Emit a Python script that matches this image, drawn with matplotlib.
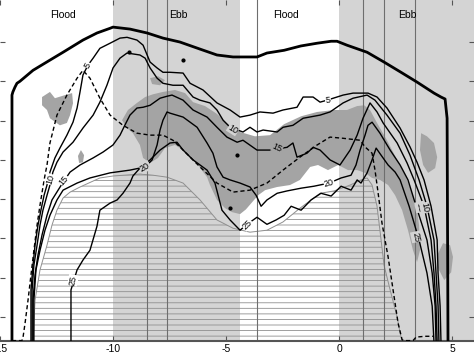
import numpy as np
import matplotlib
matplotlib.use("Agg")
import matplotlib.pyplot as plt

plt.rcParams["font.family"] = ["Liberation Sans", "DejaVu Sans"]
plt.rcParams["axes.unicode_minus"] = False
plt.rcParams["hatch.linewidth"] = 0.6

# x: time (h), y: depth below top of the section (m)
surface = [(-14.47, 8.65), (-14.47, 2.35), (-14.43, 2.27), (-14.34, 2.15), (-14.25, 2.05),
           (-14.12, 2.00), (-13.54, 1.72), (-12.79, 1.46), (-12.21, 1.26), (-11.33, 0.95),
           (-10.71, 0.77), (-10.13, 0.65), (-10.0, 0.62), (-9.25, 0.67), (-8.49, 0.77),
           (-7.79, 0.90), (-7.04, 1.00), (-6.15, 1.18), (-5.40, 1.33), (-4.69, 1.38),
           (-3.63, 1.38), (-3.19, 1.28), (-2.43, 1.21), (-1.69, 1.10), (-0.97, 1.03),
           (-0.35, 0.98), (-0.09, 0.98), (0.35, 1.08), (1.24, 1.26), (1.99, 1.51),
           (2.74, 1.77), (3.45, 2.02), (4.20, 2.30), (4.51, 2.40), (4.69, 2.45),
           (4.78, 2.94), (4.82, 8.65)]

sal_5 = [(-13.63, 8.65), (-13.63, 7.31), (-13.54, 6.68), (-13.45, 6.17), (-13.32, 5.66),
         (-13.19, 5.28), (-13.05, 4.90), (-12.92, 4.64), (-12.79, 4.31), (-12.57, 3.95),
         (-12.35, 3.70), (-12.04, 3.37), (-11.77, 3.04), (-11.59, 2.68), (-11.46, 2.27),
         (-11.33, 1.84), (-11.11, 1.59), (-10.88, 1.41), (-10.58, 1.16), (-10.13, 1.03),
         (-9.69, 0.90), (-9.38, 0.88), (-8.94, 0.95), (-8.67, 1.08), (-8.49, 1.33),
         (-8.36, 1.51), (-8.05, 1.66), (-7.79, 1.77), (-7.48, 1.77), (-6.90, 1.79),
         (-6.59, 2.05), (-6.02, 2.22), (-5.40, 2.55), (-4.82, 2.73), (-4.38, 2.91),
         (-3.94, 2.86), (-3.50, 2.78), (-2.92, 2.81), (-2.48, 2.73), (-1.86, 2.66),
         (-1.59, 2.40), (-1.15, 2.40), (-0.84, 2.53), (-0.53, 2.48), (0.18, 2.35),
         (0.62, 2.30), (1.28, 2.30), (1.68, 2.40), (2.12, 2.68), (2.70, 3.19),
         (3.14, 3.67), (3.45, 4.06), (3.76, 4.51), (4.07, 5.18), (4.34, 6.04),
         (4.38, 6.88), (4.47, 7.72), (4.51, 8.65)]

sal_10 = [(-13.58, 8.65), (-13.58, 7.31), (-13.50, 6.68), (-13.36, 6.17), (-13.23, 5.66),
          (-13.10, 5.28), (-12.92, 4.90), (-12.79, 4.64), (-12.66, 4.31), (-12.48, 4.06),
          (-12.21, 3.80), (-11.77, 3.55), (-11.33, 3.19), (-10.88, 2.86), (-10.58, 2.53),
          (-10.27, 2.10), (-10.0, 1.66), (-9.69, 1.41), (-9.38, 1.28), (-8.81, 1.33),
          (-8.58, 1.41), (-8.36, 1.66), (-8.05, 1.92), (-7.79, 2.05), (-7.35, 2.10),
          (-6.90, 2.10), (-6.46, 2.40), (-6.15, 2.48), (-5.71, 2.55), (-5.40, 2.73),
          (-5.13, 2.99), (-4.82, 3.17), (-4.25, 3.29), (-3.94, 3.17), (-3.63, 3.29),
          (-3.36, 3.24), (-2.74, 3.29), (-2.48, 3.17), (-2.04, 3.12), (-1.59, 2.94),
          (-0.84, 2.86), (-0.40, 2.78), (0.18, 2.55), (0.62, 2.43), (1.24, 2.35),
          (1.59, 2.48), (2.12, 2.86), (2.70, 3.32), (3.14, 3.88), (3.54, 4.51),
          (3.89, 5.18), (4.20, 6.04), (4.29, 6.88), (4.38, 7.72), (4.42, 8.65)]

sal_15 = [(-13.54, 8.65), (-13.54, 7.57), (-13.45, 6.93), (-13.32, 6.42), (-13.14, 5.91),
          (-12.92, 5.41), (-12.70, 5.02), (-12.43, 4.77), (-12.21, 4.57), (-11.90, 4.31),
          (-11.46, 4.13), (-10.88, 3.95), (-10.44, 3.80), (-10.0, 3.62), (-9.69, 3.37),
          (-9.47, 3.11), (-9.25, 2.86), (-8.94, 2.68), (-8.67, 2.66), (-8.36, 2.61),
          (-7.92, 2.43), (-7.61, 2.38), (-7.39, 2.35), (-6.90, 2.48), (-6.46, 2.73),
          (-5.84, 2.91), (-5.40, 3.17), (-4.96, 3.42), (-4.51, 3.55), (-4.25, 3.50),
          (-3.63, 3.75), (-3.05, 3.75), (-2.30, 3.68), (-2.04, 3.57), (-1.86, 3.93),
          (-1.42, 3.83), (-1.15, 3.68), (-0.84, 3.75), (-0.40, 4.00), (0.04, 4.13),
          (0.49, 3.75), (0.80, 3.37), (1.06, 2.94), (1.37, 2.55), (1.68, 2.78),
          (1.95, 3.06), (2.57, 3.57), (3.01, 4.08), (3.32, 4.51), (3.76, 5.18),
          (4.07, 6.04), (4.20, 6.88), (4.29, 7.72), (4.34, 8.65)]

sal_20 = [(-13.50, 8.65), (-13.50, 7.57), (-13.41, 6.80), (-13.23, 6.30), (-13.01, 5.79),
          (-12.79, 5.41), (-12.48, 5.02), (-12.21, 4.77), (-11.59, 4.59), (-11.02, 4.46),
          (-10.13, 4.33), (-9.25, 4.26), (-8.58, 4.18), (-8.27, 4.00), (-8.05, 3.62),
          (-7.92, 3.24), (-7.79, 2.99), (-7.61, 2.78), (-7.48, 2.81), (-6.90, 2.91),
          (-6.28, 3.17), (-5.84, 3.57), (-5.58, 3.83), (-5.40, 4.18), (-5.13, 4.44),
          (-4.82, 4.51), (-4.38, 4.59), (-3.94, 4.69), (-3.67, 4.90), (-3.45, 5.18),
          (-3.19, 5.02), (-2.74, 4.85), (-2.30, 4.79), (-1.68, 4.72), (-1.11, 4.67),
          (-0.44, 4.59), (0.09, 4.46), (0.53, 4.39), (0.75, 4.13), (0.93, 3.75),
          (1.15, 3.37), (1.28, 3.12), (1.46, 3.04), (1.81, 3.32), (2.26, 3.75),
          (2.70, 4.13), (3.05, 4.51), (3.41, 5.18), (3.89, 6.04), (4.12, 6.88),
          (4.25, 7.72), (4.29, 8.65)]

sal_25 = [(-11.86, 8.65), (-11.86, 7.31), (-11.59, 6.80), (-11.33, 6.55), (-11.02, 6.30),
          (-10.71, 5.69), (-10.58, 5.28), (-10.13, 5.10), (-9.82, 5.02), (-9.56, 4.85),
          (-9.25, 4.59), (-9.12, 4.41), (-8.81, 4.21), (-8.36, 4.00), (-7.92, 3.75),
          (-7.48, 3.57), (-7.17, 3.55), (-6.90, 3.75), (-6.46, 4.00), (-5.84, 4.26),
          (-5.49, 4.59), (-5.35, 4.90), (-5.18, 5.28), (-4.82, 5.53), (-4.38, 5.79),
          (-4.07, 5.64), (-3.63, 5.46), (-3.19, 5.64), (-2.79, 5.53), (-2.43, 5.41),
          (-2.12, 5.18), (-1.68, 5.28), (-1.24, 5.02), (-0.80, 4.85), (-0.35, 4.92),
          (0.09, 4.67), (0.53, 4.77), (0.80, 4.51), (0.97, 4.59), (1.24, 4.33),
          (1.46, 4.00), (1.64, 3.70), (1.86, 3.88), (2.17, 4.13), (2.48, 4.31),
          (2.70, 4.51), (3.10, 5.18), (3.54, 6.04), (3.89, 6.88), (4.12, 7.72),
          (4.20, 8.65)]

# dashed line (zero residual current)
zero_line = [(-14.47, 8.60), (-14.03, 8.60), (-13.98, 8.51), (-13.89, 8.15), (-13.76, 7.57),
             (-13.63, 6.93), (-13.50, 6.30), (-13.36, 5.66), (-13.23, 5.15), (-13.10, 4.69),
             (-13.01, 4.39), (-12.92, 4.13), (-12.79, 3.57), (-12.48, 2.86), (-12.04, 2.35),
             (-11.59, 1.92), (-11.33, 1.72), (-11.02, 1.92), (-10.58, 2.43), (-10.13, 2.86),
             (-9.56, 3.12), (-8.94, 3.32), (-8.36, 3.37), (-7.79, 3.37), (-7.35, 3.50),
             (-6.90, 3.75), (-6.15, 4.18), (-5.40, 4.59), (-4.69, 4.82), (-3.94, 4.77),
             (-3.19, 4.59), (-2.48, 4.26), (-1.73, 3.93), (-0.97, 3.62), (-0.40, 3.42),
             (0.18, 3.45), (0.93, 3.50), (1.15, 3.67), (1.46, 3.83), (1.59, 4.26),
             (1.73, 4.85), (1.90, 5.61), (2.17, 6.47), (2.39, 7.31), (2.61, 8.15),
             (2.79, 8.58), (2.92, 8.60), (3.27, 8.60), (3.41, 8.51), (3.81, 8.49),
             (4.16, 8.49)]

# hatched zone
hatch_zone = [(-13.54, 8.70), (-13.45, 7.57), (-13.23, 6.80), (-12.92, 6.17), (-12.70, 5.66),
              (-12.48, 5.28), (-12.21, 4.97), (-11.90, 4.82), (-11.46, 4.69), (-10.58, 4.46),
              (-10.0, 4.41), (-8.81, 4.36), (-8.23, 4.39), (-7.61, 4.44), (-6.90, 4.59),
              (-6.15, 5.02), (-5.40, 5.53), (-4.69, 5.74), (-3.94, 5.84), (-3.19, 5.79),
              (-2.48, 5.58), (-1.73, 5.23), (-0.84, 4.85), (-0.22, 4.79), (0.49, 4.64),
              (0.97, 4.51), (1.24, 4.46), (1.46, 4.64), (1.68, 5.18), (1.86, 6.04),
              (1.99, 6.68), (2.26, 7.31), (2.57, 8.00), (2.70, 8.41), (2.83, 8.70)]

# dark grey patches
patch_main = [(-9.60, 2.99), (-9.34, 2.73), (-8.94, 2.55), (-8.58, 2.40), (-8.23, 2.33),
              (-7.79, 2.27), (-7.26, 2.22), (-6.81, 2.30), (-6.46, 2.53), (-5.93, 2.63),
              (-5.40, 2.83), (-4.91, 3.09), (-4.38, 3.29), (-3.72, 3.40), (-3.05, 3.37),
              (-2.43, 3.09), (-1.68, 2.89), (-0.97, 2.78), (-0.22, 2.73), (0.35, 2.73),
              (0.80, 2.63), (1.11, 2.61), (1.37, 2.73), (1.68, 3.06), (2.12, 3.50),
              (2.57, 4.00), (2.92, 4.39), (3.19, 4.77), (3.41, 5.15), (3.54, 5.66),
              (3.58, 6.30), (3.45, 6.60), (3.27, 6.30), (3.05, 5.79), (2.79, 5.28),
              (2.48, 4.90), (2.17, 4.64), (1.81, 4.51), (1.46, 4.46), (1.15, 4.33),
              (0.80, 4.26), (0.40, 4.26), (-0.04, 4.13), (-0.49, 4.26), (-0.93, 4.13),
              (-1.28, 4.18), (-1.73, 4.51), (-2.17, 4.64), (-2.74, 4.69), (-3.27, 4.77),
              (-3.58, 4.90), (-3.85, 5.08), (-4.12, 5.26), (-4.38, 5.38), (-4.73, 5.33),
              (-5.04, 5.23), (-5.40, 5.02), (-5.71, 4.64), (-5.84, 4.44), (-6.24, 4.13),
              (-6.59, 3.95), (-6.90, 3.75), (-7.26, 3.62), (-7.70, 3.70), (-8.01, 3.95),
              (-8.36, 4.08), (-8.67, 3.95), (-8.81, 3.62), (-9.12, 3.32), (-9.38, 3.19)]
patch_left = [(-13.14, 2.40), (-12.79, 2.27), (-12.57, 2.43), (-12.12, 2.35), (-11.81, 2.30),
              (-11.77, 2.56), (-11.90, 2.86), (-12.04, 3.06), (-12.35, 3.12), (-12.79, 2.94),
              (-12.92, 2.73), (-13.14, 2.61)]
patch_blob = [(-11.42, 3.75), (-11.28, 3.88), (-11.33, 4.06), (-11.50, 4.08), (-11.55, 3.90)]
patch_top = [(-8.36, 1.92), (-8.01, 1.87), (-7.70, 1.97), (-7.92, 2.10), (-8.27, 2.07)]
patch_right = [(3.63, 3.32), (3.89, 3.40), (4.20, 3.57), (4.34, 3.93), (4.25, 4.21),
               (3.94, 4.33), (3.72, 4.13), (3.58, 3.75)]
patch_low = [(4.60, 6.12), (4.91, 6.17), (5.04, 6.47), (4.96, 6.86), (4.65, 7.06),
             (4.38, 6.75), (4.34, 6.43)]

dots_x = [-9.29, -6.90, -4.51, -4.82]
dots_y = [1.26, 1.46, 3.88, 5.23]

shade_bands = [(-10.0, -4.4), (0.0, 6.0)]
event_times = [-8.5, -7.6, -3.65, 1.06, 2.0, 3.36]

phase_names = ["Flood", "Ebb", "Flood", "Ebb"]
phase_x = [-12.21, -7.12, -2.35, 3.01]

# contour labels: text, x, depth, angle
label_text = ["5", "10", "15", "20", "25", "10", "15", "5", "20", "25", "15", "10", "25"]
label_x = [-11.11, -12.75, -12.17, -8.58, -11.77, -4.69, -2.74, -0.49, -0.44, -4.07, 3.58, 3.80, 3.40]
label_y = [1.59, 4.50, 4.52, 4.18, 7.06, 3.22, 3.70, 2.48, 4.59, 5.64, 5.20, 5.22, 5.96]
label_rot = [60, 72, 50, 30, 78, -32, -25, 5, 15, 45, -78, -78, -78]

band_grey = "#d4d4d4"
dark_grey = "#a4a4a4"

fig = plt.figure(figsize=(4.74, 3.53), dpi=100)
ax = fig.add_axes([0, 12 / 353, 1, 341 / 353])

for x0, x1 in shade_bands:
    ax.axvspan(x0, x1, color=band_grey, lw=0, zorder=0)

hz = np.array(hatch_zone)
ax.fill(hz[:, 0], hz[:, 1], facecolor="none", edgecolor="#8f8f8f",
        hatch="---", lw=0.7, zorder=1)

for p in [patch_main, patch_left, patch_blob, patch_top, patch_right, patch_low]:
    p = np.array(p)
    ax.fill(p[:, 0], p[:, 1], color=dark_grey, lw=0, zorder=1.5)

for t in event_times:
    ax.axvline(t, color="#6e6e6e", lw=0.8, zorder=2)

for c in [sal_5, sal_10, sal_15, sal_20, sal_25]:
    c = np.array(c)
    ax.plot(c[:, 0], c[:, 1], color="k", lw=1.0, zorder=3)

z = np.array(zero_line)
ax.plot(z[:, 0], z[:, 1], color="k", lw=1.0, ls=(0, (3, 2)), zorder=3)

s = np.array(surface)
ax.plot(s[:, 0], s[:, 1], color="k", lw=2.0, zorder=4)

ax.plot(dots_x, dots_y, "o", color="k", ms=2, zorder=4)

for txt, x, y, r in zip(label_text, label_x, label_y, label_rot):
    if -10 <= x <= -4.4 or x >= 0:
        bg = band_grey
    else:
        bg = "white"
    if txt == "15" and -3 < x < -2:
        bg = dark_grey
    ax.text(x, y, txt, fontsize=6.5, rotation=r, ha="center", va="center",
            rotation_mode="anchor", zorder=5,
            bbox=dict(boxstyle="square,pad=0.05", fc=bg, ec="none"))

for name, x in zip(phase_names, phase_x):
    ax.text(x, 0.32, name, fontsize=7.5, ha="center", va="center", zorder=5)

ax.set_xlim(-15, 5.97)
ax.set_ylim(8.61, -0.07)
ax.set_xticks([-15, -10, -5, 0, 5])
ax.set_yticks(range(1, 9))
ax.set_yticklabels([])
ax.tick_params(direction="in", top=True, right=True, length=3.5, width=0.8,
               color="#555555", labelsize=7.5, pad=2)
for side in ["left", "right", "top"]:
    ax.spines[side].set_visible(False)
ax.spines["bottom"].set_linewidth(1.5)
ax.spines["bottom"].set_color("#555555")

fig.savefig("out.png", dpi=100)
